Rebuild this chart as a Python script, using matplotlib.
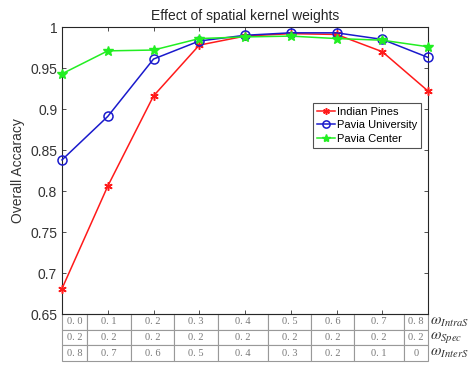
import matplotlib.pyplot as plt

plt.rcParams['font.family'] = ['Liberation Sans', 'DejaVu Sans']
plt.rcParams['mathtext.fontset'] = 'stix'

x = [1, 2, 3, 4, 5, 6, 7, 8, 9]
indian_pines = [0.681, 0.806, 0.916, 0.978, 0.989, 0.992, 0.991, 0.970, 0.922]
pavia_univ = [0.838, 0.891, 0.961, 0.983, 0.990, 0.993, 0.993, 0.985, 0.963]
pavia_center = [0.943, 0.971, 0.972, 0.986, 0.988, 0.989, 0.986, 0.984, 0.976]

w_intra = ['0. 0', '0. 1', '0. 2', '0. 3', '0. 4', '0. 5', '0. 6', '0. 7', '0. 8']
w_spec = ['0. 2'] * 9
w_inter = ['0. 8', '0. 7', '0. 6', '0. 5', '0. 4', '0. 3', '0. 2', '0. 1', '0']
row_names = [r'$\omega_{IntraS}$', r'$\omega_{Spec}$', r'$\omega_{InterS}$']
col_px = [25, 44, 43, 44, 50, 43, 43, 50, 24]

fig = plt.figure(figsize=(4.74, 3.66), dpi=100)
ax = fig.add_axes([0.1308, 0.142, 0.7722, 0.784])

ax.plot(x, indian_pines, color='#ff1a1a', marker=(6, 2, 0), markersize=6, lw=1.1,
        mew=1.1, label='Indian Pines', clip_on=False, zorder=3)
ax.plot(x, pavia_univ, color='#1a1acc', marker='o', markersize=6.5, mfc='none', lw=1.1,
        mew=1.1, label='Pavia University', clip_on=False, zorder=3)
ax.plot(x, pavia_center, color='#22ee22', marker='*', markersize=7.5, lw=1.1,
        label='Pavia Center', clip_on=False, zorder=3)

ax.set_xlim(1, 9)
ax.set_ylim(0.65, 1)
ax.set_yticks([0.65, 0.7, 0.75, 0.8, 0.85, 0.9, 0.95, 1])
ax.set_yticklabels(['0.65', '0.7', '0.75', '0.8', '0.85', '0.9', '0.95', '1'])
ax.set_xticks(x)
ax.set_xticklabels([])
ax.tick_params(direction='in', top=True, right=True, labelsize=10, colors='#333333',
               length=3, width=0.6)
for s in ax.spines.values():
    s.set_color('#262626')
    s.set_linewidth(0.8)

ax.set_ylabel('Overall Accaracy', fontsize=10, color='#333333', labelpad=4)
ax.set_title('Effect of spatial kernel weights', fontsize=10, color='#262626', pad=5)

leg = ax.legend(loc='upper left', bbox_to_anchor=(0.686, 0.735), fontsize=8,
                frameon=True, fancybox=False, edgecolor='#262626',
                borderpad=0.35, labelspacing=0.3, handlelength=1.6,
                handletextpad=0.2, borderaxespad=0, markerscale=0.8)
leg.get_frame().set_linewidth(0.8)

h = 47 / 287
tot = sum(col_px)
tab = ax.table(cellText=[w_intra, w_spec, w_inter], colWidths=[c / tot for c in col_px],
               cellLoc='center', bbox=[0, -h, 1, h])
tab.auto_set_font_size(False)
for (r, c), cell in tab.get_celld().items():
    cell.set_edgecolor('#999999')
    cell.set_linewidth(0.8)
    cell.get_text().set_fontsize(7.5)
    cell.get_text().set_color('#777777')
    cell.get_text().set_fontfamily('Liberation Serif')

for i, name in enumerate(row_names):
    ax.text(1.005, -h * (i + 0.5) / 3, name, transform=ax.transAxes, ha='left',
            va='center', fontsize=11, color='#333333')

fig.savefig('out.png', dpi=100)
